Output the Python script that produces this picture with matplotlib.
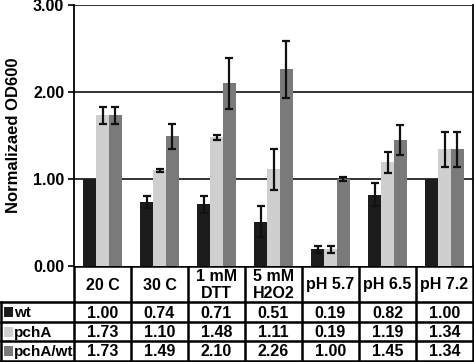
import matplotlib
matplotlib.use("Agg")
import matplotlib.pyplot as plt
from matplotlib.patches import Rectangle
import numpy as np

# conditions and series
conditions = ["20 C", "30 C", "1 mM\nDTT", "5 mM\nH2O2", "pH 5.7", "pH 6.5", "pH 7.2"]
series = ["wt", "pchA", "pchA/wt"]
wt = [1.00, 0.74, 0.71, 0.51, 0.19, 0.82, 1.00]
pcha = [1.73, 1.10, 1.48, 1.11, 0.19, 1.19, 1.34]
ratio = [1.73, 1.49, 2.10, 2.26, 1.00, 1.45, 1.34]
wt_err = [0, 0.07, 0.10, 0.18, 0.04, 0.13, 0]
pcha_err = [0.10, 0.02, 0.03, 0.24, 0.04, 0.12, 0.20]
ratio_err = [0.10, 0.14, 0.29, 0.33, 0.02, 0.17, 0.20]
yticks = [0, 1, 2, 3]

colors = ["#1c1c1c", "#cfcfcf", "#7a7a7a"]
narrow = ["Liberation Sans Narrow", "Liberation Sans", "DejaVu Sans"]
W, H = 474, 362

fig = plt.figure(figsize=(W / 100, H / 100), dpi=100)

# bar chart axes (pixel layout)
x0, x1 = 74, 473
ytop, ybot = 5, 266
ax = fig.add_axes([x0 / W, (H - ybot) / H, (x1 - x0) / W, (ybot - ytop) / H])

x = np.arange(len(conditions))
bw = 0.225
for k, (vals, errs) in enumerate([(wt, wt_err), (pcha, pcha_err), (ratio, ratio_err)]):
    pos = x + (k - 1) * bw
    ax.bar(pos, vals, bw, color=colors[k], zorder=3)
    idx = [i for i in range(len(vals)) if errs[i] > 0]
    ax.errorbar(pos[idx], np.array(vals)[idx], yerr=np.array(errs)[idx], fmt="none",
                ecolor="#111111", elinewidth=1.6, capsize=3, capthick=1.6, zorder=4)

ax.set_xlim(-0.5, len(conditions) - 0.5)
ax.set_ylim(0, 3)
ax.set_yticks(yticks)
ax.set_yticklabels([f"{v:.2f}" for v in yticks], fontfamily=narrow,
                   fontweight="bold", fontsize=11.5)
ax.tick_params(axis="y", length=4, width=1.2, pad=3)
ax.set_xticks([])
for v in yticks[1:]:
    ax.axhline(v, color="#111111", lw=1.2, zorder=2)
for s in ["left", "right"]:
    ax.spines[s].set_linewidth(1.3)
ax.spines["top"].set_visible(False)
ax.spines["bottom"].set_visible(False)
ax.set_ylabel("Normalizaed OD600", fontfamily=["Liberation Sans", "DejaVu Sans"],
              fontweight="bold", fontsize=12, labelpad=9)

# table below the chart, drawn in pixel coordinates
tab = fig.add_axes([0, 0, 1, 1], zorder=-1)
tab.set_xlim(0, W)
tab.set_ylim(H, 0)
tab.axis("off")

col_w = (x1 - x0) / len(conditions)
rows_y = [266, 302, 322, 341, 361]
lw = 1.8

# horizontal lines
tab.plot([x0, x1], [rows_y[0], rows_y[0]], color="k", lw=lw)
for yy in rows_y[1:]:
    tab.plot([1, x1], [yy, yy], color="k", lw=lw)
# vertical lines
for i in range(len(conditions) + 1):
    xx = x0 + i * col_w
    tab.plot([xx, xx], [rows_y[0], rows_y[-1]], color="k", lw=lw)
tab.plot([1, 1], [rows_y[1], rows_y[-1]], color="k", lw=lw)

# header
for i, c in enumerate(conditions):
    tab.text(x0 + (i + 0.5) * col_w, (rows_y[0] + rows_y[1]) / 2 + 1, c,
             ha="center", va="center", fontfamily=narrow, fontweight="bold",
             fontsize=11.5, linespacing=1.1)

# data rows
for r, (name, vals) in enumerate(zip(series, [wt, pcha, ratio])):
    ya, yb = rows_y[r + 1], rows_y[r + 2]
    ym = (ya + yb) / 2
    tab.add_patch(Rectangle((4, ym - 5), 9, 10, color=colors[r], lw=0))
    tab.text(14, ym + 1, name, ha="left", va="center", fontfamily=narrow,
             fontweight="bold", fontsize=11)
    for i, v in enumerate(vals):
        tab.text(x0 + (i + 0.5) * col_w, ym + 1, f"{v:.2f}", ha="center",
                 va="center", fontfamily=narrow, fontweight="bold", fontsize=11.5)

fig.savefig("out.png", dpi=100)
